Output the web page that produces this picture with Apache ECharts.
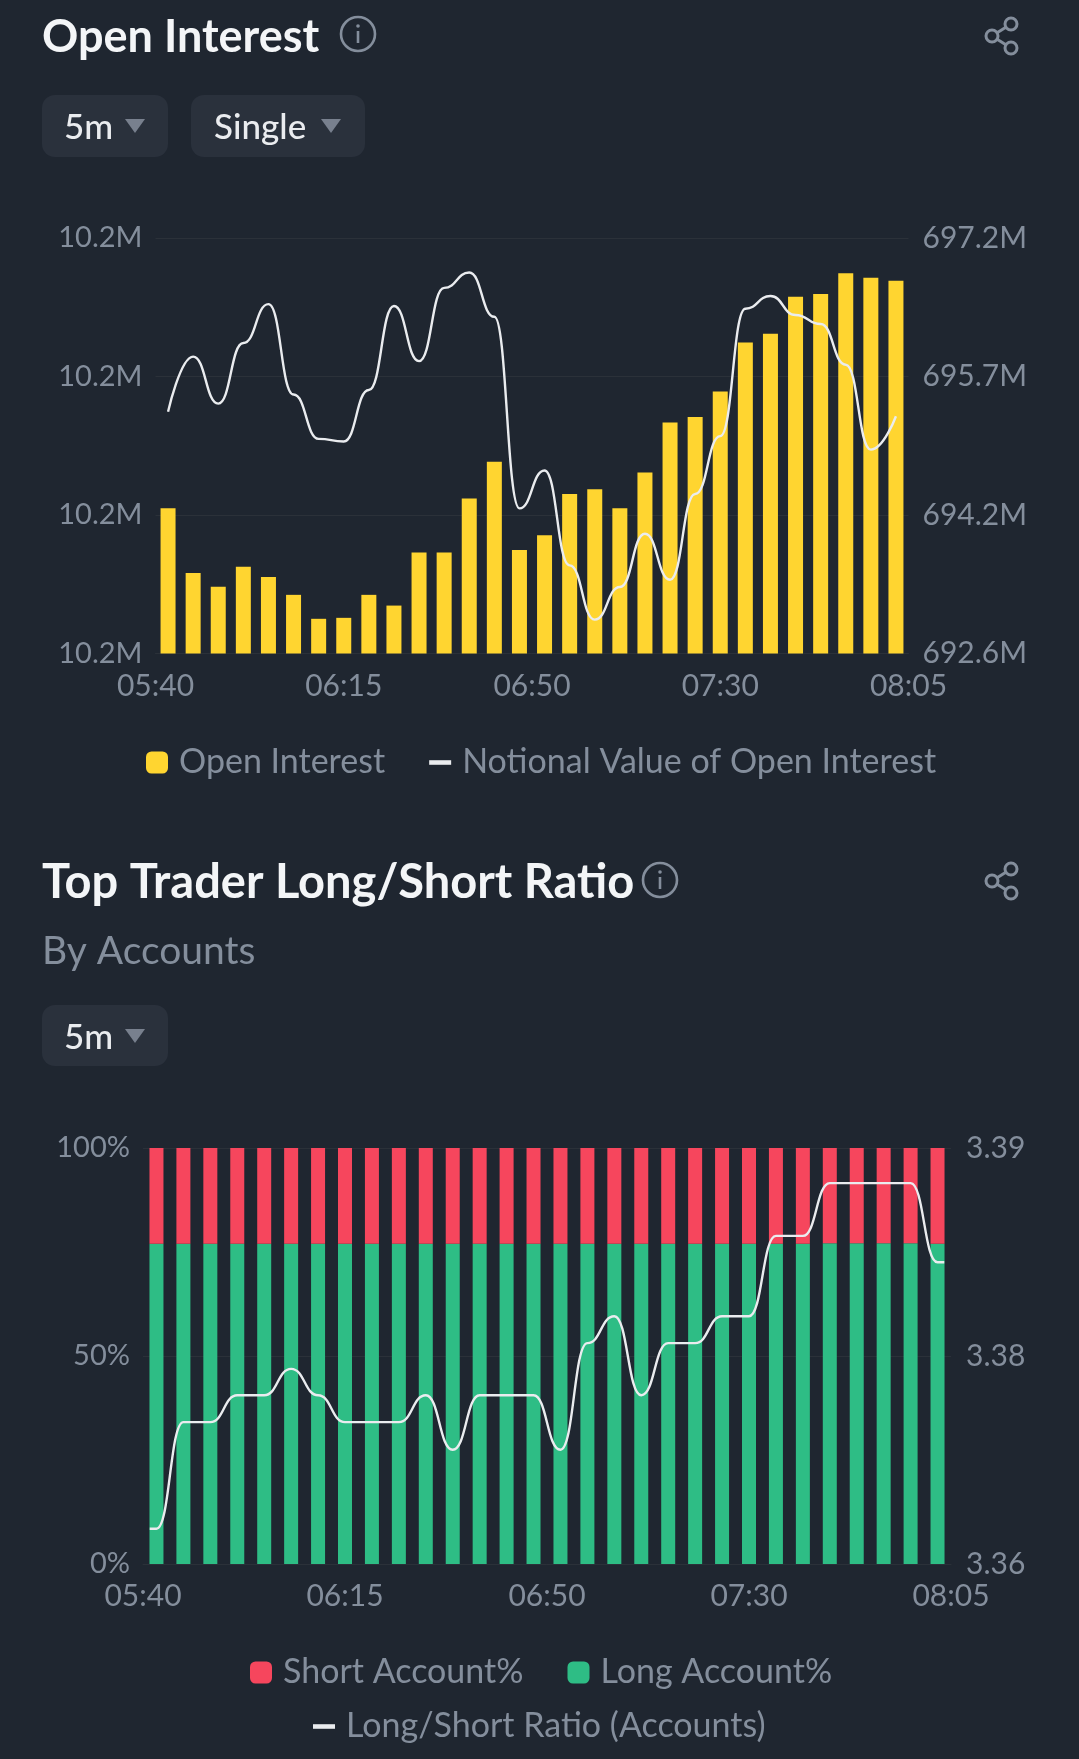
<!DOCTYPE html>
<html><head><meta charset="utf-8">
<style>html,body{margin:0;padding:0;background:#1f2630}#c{width:1079px;height:1759px}</style>
<script src="https://cdn.jsdelivr.net/npm/echarts@6/dist/echarts.min.js"></script>
</head><body><div id="c"></div>
<script>
var FONT = 'Lato, "Open Sans", sans-serif';
var timeCategories = ['05:40','05:45','05:50','05:55','06:00','06:05','06:10','06:15','06:20','06:25','06:30','06:35','06:40','06:45','06:50','06:55','07:00','07:05','07:10','07:15','07:20','07:25','07:30','07:35','07:40','07:45','07:50','07:55','08:00','08:05'];
var tickLabels = ['05:40','06:15','06:50','07:30','08:05'];
var openInterest = [10200980,10191630,10189640,10192520,10191040,10188470,10185010,10185150,10188470,10186920,10194580,10194580,10202380,10207680,10194950,10197080,10203040,10203710,10200980,10206140,10213350,10214160,10217840,10224910,10226160,10231530,10231900,10234920,10234260,10233820];
var notionalValue = [695.32,695.93,695.41,696.08,696.51,695.51,695.02,694.99,695.56,696.49,695.88,696.69,696.86,696.37,694.25,694.67,693.62,693.02,693.38,693.97,693.46,694.41,695.05,696.46,696.60,696.39,696.29,695.84,694.90,695.27];
var shortAccount = [23,23,23,23,23,23,23,23,23,23,23,23,23,23,23,23,23,23,23,23,23,23,23,23,23,22.9,22.9,22.9,22.9,23];
var longAccount = [77,77,77,77,77,77,77,77,77,77,77,77,77,77,77,77,77,77,77,77,77,77,77,77,77,77.1,77.1,77.1,77.1,77];
var lsRatio = [3.36254,3.37023,3.37023,3.37217,3.37217,3.37407,3.37217,3.37023,3.37023,3.37023,3.37217,3.36824,3.37217,3.37217,3.37217,3.36824,3.37593,3.37787,3.37217,3.37593,3.37593,3.37787,3.37787,3.38366,3.38366,3.38747,3.38747,3.38747,3.38747,3.38176];

var BG='#1f2630', GRID='#2b3139', GREY='#848e9c', PANEL='#2a313c', WHITE='#eaecef';
var LINE_ICON='path://M0,0h24v5h-24z';

function labelStyle(size){return {color:GREY,fontFamily:FONT,fontSize:size||30};}
function bandAxis(grid){return {type:'category',gridIndex:grid,data:timeCategories,show:false};}
function tickAxis(grid,margin){return {type:'category',gridIndex:grid,data:tickLabels,boundaryGap:false,position:'bottom',
  axisLine:{show:true,lineStyle:{color:GRID}},axisTick:{show:false},
  axisLabel:Object.assign(labelStyle(),{interval:0,margin:margin,showMinLabel:true,showMaxLabel:true})};}
function legend(names,left,top,gap){return {show:true,left:left,top:top,padding:0,orient:'horizontal',itemWidth:22,itemHeight:22,itemGap:gap,
  selectedMode:false,data:names,textStyle:{color:GREY,fontFamily:FONT,fontSize:34,padding:[0,0,0,6]}};}

var els=[];
function button(x,y,w,h,label,tx,ty,trix,triy){
  els.push({type:'rect',shape:{x:x,y:y,width:w,height:h,r:13},style:{fill:PANEL}});
  els.push({type:'text',style:{text:label,x:tx,y:ty,fill:WHITE,font:'500 35px '+FONT,verticalAlign:'middle'}});
  els.push({type:'polygon',shape:{points:[[trix-10,triy-7],[trix+10,triy-7],[trix,triy+7]]},style:{fill:'#78808e'}});
}
function info(cx,cy){
  els.push({type:'circle',shape:{cx:cx,cy:cy,r:17},style:{fill:'none',stroke:GREY,lineWidth:2.6}});
  els.push({type:'circle',shape:{cx:cx,cy:cy-8,r:1.8},style:{fill:GREY}});
  els.push({type:'line',shape:{x1:cx,y1:cy-3,x2:cx,y2:cy+9},style:{stroke:GREY,lineWidth:2.6}});
}
function share(cx,cy){
  var p=[[cx+10,cy-12],[cx-9,cy],[cx+10,cy+12]];
  els.push({type:'line',shape:{x1:p[0][0],y1:p[0][1],x2:p[1][0],y2:p[1][1]},style:{stroke:GREY,lineWidth:3}});
  els.push({type:'line',shape:{x1:p[1][0],y1:p[1][1],x2:p[2][0],y2:p[2][1]},style:{stroke:GREY,lineWidth:3}});
  p.forEach(function(q){els.push({type:'circle',shape:{cx:q[0],cy:q[1],r:6},style:{fill:BG,stroke:GREY,lineWidth:3}});});
}
button(42,95,126,62,'5m',64,128,135,126);
button(191,95,174,62,'Single',214,128,331,126);
button(42,1005,126,61,'5m',64,1038,135,1036);
info(358,34); share(1001,36);
info(660,880); share(1001,881);

// Ratio line: same readings, placed on a band-unit x axis; it runs flat out to the outer side of the first and last bars.
var lsRatioPoints=[[0.25,lsRatio[0]]].concat(lsRatio.map(function(v,i){return [i+0.5,v];})).concat([[29.75,lsRatio[29]]]);

var option={
  backgroundColor:BG,animation:false,
  title:[
    {text:'Open Interest',left:42,top:15,padding:0,textStyle:{color:'#f3f5f7',fontFamily:FONT,fontWeight:700,fontSize:45}},
    {text:'Top Trader Long/Short Ratio',left:42,top:859,padding:0,textStyle:{color:'#f3f5f7',fontFamily:FONT,fontWeight:700,fontSize:47}},
    {text:'By Accounts',left:42,top:932,padding:0,textStyle:{color:GREY,fontFamily:FONT,fontWeight:400,fontSize:39}}
  ],
  legend:[
    legend([{name:'Open Interest',icon:'roundRect'},{name:'Notional Value of Open Interest',icon:LINE_ICON}],146,745.5,44),
    legend([{name:'Short Account%',icon:'roundRect'},{name:'Long Account%',icon:'roundRect'}],250,1655.5,44),
    legend([{name:'Long/Short Ratio (Accounts)',icon:LINE_ICON}],313,1709.5,44)
  ],
  grid:[
    {left:155.5,top:238,width:753,height:415.5},
    {left:143,top:1148,width:808,height:416}
  ],
  xAxis:[bandAxis(0),tickAxis(0,18),bandAxis(1),tickAxis(1,17),
    {type:'value',gridIndex:1,min:0,max:30,show:false}],
  yAxis:[
    {type:'value',gridIndex:0,min:10180000,max:10240000,interval:20000,
     axisLine:{show:false},axisTick:{show:false},splitLine:{lineStyle:{color:GRID}},
     axisLabel:Object.assign(labelStyle(29),{margin:13,padding:[0,0,3,0],formatter:function(v){return (v/1e6).toFixed(1)+'M';}})},
    {type:'value',gridIndex:0,position:'right',min:692.6448,max:697.242,interval:1.5324,
     axisLine:{show:false},axisTick:{show:false},splitLine:{show:false},
     axisLabel:Object.assign(labelStyle(),{margin:14,padding:[0,0,3,0],formatter:function(v){return v.toFixed(1)+'M';}})},
    {type:'value',gridIndex:1,min:0,max:100,interval:50,
     axisLine:{show:false},axisTick:{show:false},splitLine:{lineStyle:{color:GRID}},
     axisLabel:Object.assign(labelStyle(29),{margin:13,padding:[0,0,3,0],formatter:'{value}%'})},
    {type:'value',gridIndex:1,position:'right',min:3.36,max:3.39,interval:0.015,
     axisLine:{show:false},axisTick:{show:false},splitLine:{show:false},
     axisLabel:Object.assign(labelStyle(),{margin:15,padding:[0,0,3,0],formatter:function(v){return (Math.round(v*100+1e-6)/100).toFixed(2);}})}
  ],
  series:[
    {name:'Open Interest',type:'bar',xAxisIndex:0,yAxisIndex:0,data:openInterest,barWidth:15,itemStyle:{color:'#ffd530'}},
    {name:'Notional Value of Open Interest',type:'line',xAxisIndex:0,yAxisIndex:1,data:notionalValue,smooth:0.5,smoothMonotone:'x',showSymbol:false,symbol:'none',
     lineStyle:{color:WHITE,width:2.4},itemStyle:{color:WHITE},z:5},
    {name:'Long Account%',type:'bar',stack:'acc',xAxisIndex:2,yAxisIndex:2,data:longAccount,barWidth:14,itemStyle:{color:'#2ebd85'}},
    {name:'Short Account%',type:'bar',stack:'acc',xAxisIndex:2,yAxisIndex:2,data:shortAccount,barWidth:14,itemStyle:{color:'#f6465d'}},
    {name:'Long/Short Ratio (Accounts)',type:'line',xAxisIndex:4,yAxisIndex:3,data:lsRatioPoints,smooth:0.5,smoothMonotone:'x',showSymbol:false,symbol:'none',
     lineStyle:{color:WHITE,width:2.4},itemStyle:{color:WHITE},z:5}
  ],
  graphic:{elements:els}
};
var chart=echarts.init(document.getElementById('c'));
chart.setOption(option);
</script></body></html>
